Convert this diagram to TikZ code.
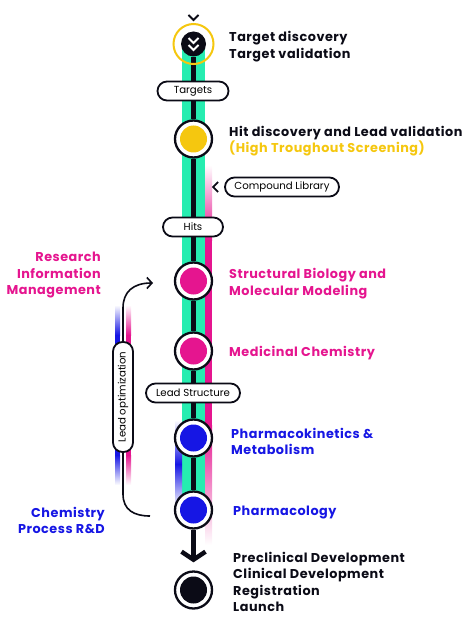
\documentclass[tikz,border=0pt]{standalone}
\usepackage{fontspec}
\setmainfont{Poppins}
\newfontfamily\stagefont{Poppins}[LetterSpace=4]
\usetikzlibrary{arrows.meta, calc}

\definecolor{ink}{HTML}{0B0B16}
\definecolor{mint}{HTML}{26EDB0}
\definecolor{berry}{HTML}{E5158F}
\definecolor{royal}{HTML}{1616E4}
\definecolor{sun}{HTML}{F5C70F}

\tikzset{
	stage/.style={circle, draw=ink, line width=2.3pt, fill=white, minimum size=37pt, inner sep=0pt,
		path picture={\fill[#1] (path picture bounding box.center) circle [radius=13.5pt];}},
	tag/.style={draw=ink, line width=1.8pt, fill=white, rounded corners=9.5pt, minimum height=19pt,
		inner sep=0pt, font=\fontsize{10.2}{12}\selectfont},
	stagetext/.style={anchor=west, align=left, inner sep=0pt, yshift=-1.5pt, font=\stagefont\bfseries\fontsize{12.8}{16.5}\selectfont},
	sidetext/.style={anchor=east, align=right, inner sep=0pt, yshift=-1.5pt, font=\stagefont\bfseries\fontsize{12.8}{16.5}\selectfont}
}

\begin{document}
\begin{tikzpicture}[x=1pt, y=-1pt]
	\def\xs{193.5};
	\def\xt{229};
	\useasboundingbox (0,0) rectangle (474,620);
	
	% stripes
	\fill[mint] (182,45) rectangle (205,505);
	\shade[top color=white, bottom color=berry] (205,165) rectangle (212,240);
	\fill[berry] (205,240) rectangle (212,425);
	\shade[top color=berry, bottom color=white] (205,425) rectangle (212,545);
	\shade[top color=white, bottom color=white, middle color=royal] (175,420) rectangle (182,508);
	
	\begin{scope}
		\shade[top color=white, bottom color=royal] (115,305) rectangle (120,335);
		\fill[royal] (115,335) rectangle (120,455);
		\shade[top color=royal, bottom color=white] (115,455) rectangle (120,485);
		\shade[top color=white, bottom color=berry] (126,305) rectangle (131,335);
		\fill[berry] (126,335) rectangle (131,455);
		\shade[top color=berry, bottom color=white] (126,455) rectangle (131,485);
	\end{scope}
	
	% stages
	\node [circle, fill=ink, minimum size=25pt, inner sep=0pt] (target) at (\xs,44) {};
	\node [stage=sun] (hit) at (\xs,139) {};
	\node [stage=berry] (structural) at (\xs,281) {};
	\node [stage=berry] (medchem) at (\xs,351) {};
	\node [stage=royal] (pk) at (\xs,438) {};
	\node [stage=royal] (pharmacology) at (\xs,510) {};
	\node [stage=ink] (launch) at (\xs,590) {};
	
	\draw [ink, line width=5pt] (target) -- (hit);
	\draw [ink, line width=5pt] (hit) -- (structural);
	\draw [ink, line width=5pt] (structural) -- (medchem);
	\draw [ink, line width=5pt] (medchem) -- (pk);
	\draw [ink, line width=5pt] (pk) -- (pharmacology);
	
	\draw [sun, line width=2pt] (target.center) circle [radius=20pt];
	\draw [white, line width=2pt] ($(target)+(-5,-6)$) -- ++(5,5) -- ++(5,-5);
	\draw [white, line width=2pt] ($(target)+(-5,1)$) -- ++(5,5) -- ++(5,-5);
	\draw [ink, line width=1.8pt] ($(target)+(-5,-29)$) -- ++(5,5) -- ++(5,-5);
	
	\draw [ink, line width=4.5pt, -{Straight Barb[length=8pt, width=24pt]}, shorten >=8pt] (pharmacology) -- (launch);
	
	% tags
	\node [tag, minimum width=71pt] (targets) at (193,91) {Targets};
	\node [tag, minimum width=114pt] (library) at (282,187) {Compound Library};
	\node [tag, minimum width=60pt] (hits) at (193,227) {Hits};
	\node [tag, minimum width=94pt] (leadstruct) at (193,393) {Lead Structure};
	\node [tag, minimum width=110pt, minimum height=20pt, rotate=90] (leadopt) at (123,397) {Lead optimization};
	
	\draw [ink, line width=1.8pt] ($(library.west)+(-6,-5)$) -- ++(-5,5) -- ++(5,5);
	
	\coordinate (loopstart) at (150,516);
	\coordinate (loopend) at (153,283);
	\draw [ink, line width=1.6pt] (leadopt.west) -- (123,494) .. controls (123,510) and (134,516) .. (loopstart);
	\draw [ink, line width=1.6pt, -{Straight Barb[length=5pt, width=11pt]}] (leadopt.east) -- (123,308) .. controls (123,292) and (133,283) .. (loopend);
	
	% texts
	\node [stagetext, text=ink] (targettext) at (\xt,45) {Target discovery\\Target validation};
	\node [stagetext, text=ink] (hittext) at (\xt,139.5) {Hit discovery and Lead validation\\\textcolor{sun}{(High Troughout Screening)}};
	\node [stagetext, text=berry] (structuraltext) at (\xt,282) {Structural Biology and\\Molecular Modeling};
	\node [stagetext, text=berry] (medchemtext) at (\xt,351.5) {Medicinal Chemistry};
	\node [stagetext, text=royal] (pktext) at (231,440) {Pharmacokinetics \&\\Metabolism};
	\node [stagetext, text=royal] (pharmacologytext) at (233,511) {Pharmacology};
	\node [stagetext, text=ink] (launchtext) at (233,580.5) {Preclinical Development\\Clinical Development\\Registration\\Launch};
	
	\node [sidetext, text=berry] (research) at (101,274) {Research\\Information\\Management};
	\node [sidetext, text=royal] (process) at (105,519) {Chemistry\\Process R\&D};
\end{tikzpicture}
\end{document}
